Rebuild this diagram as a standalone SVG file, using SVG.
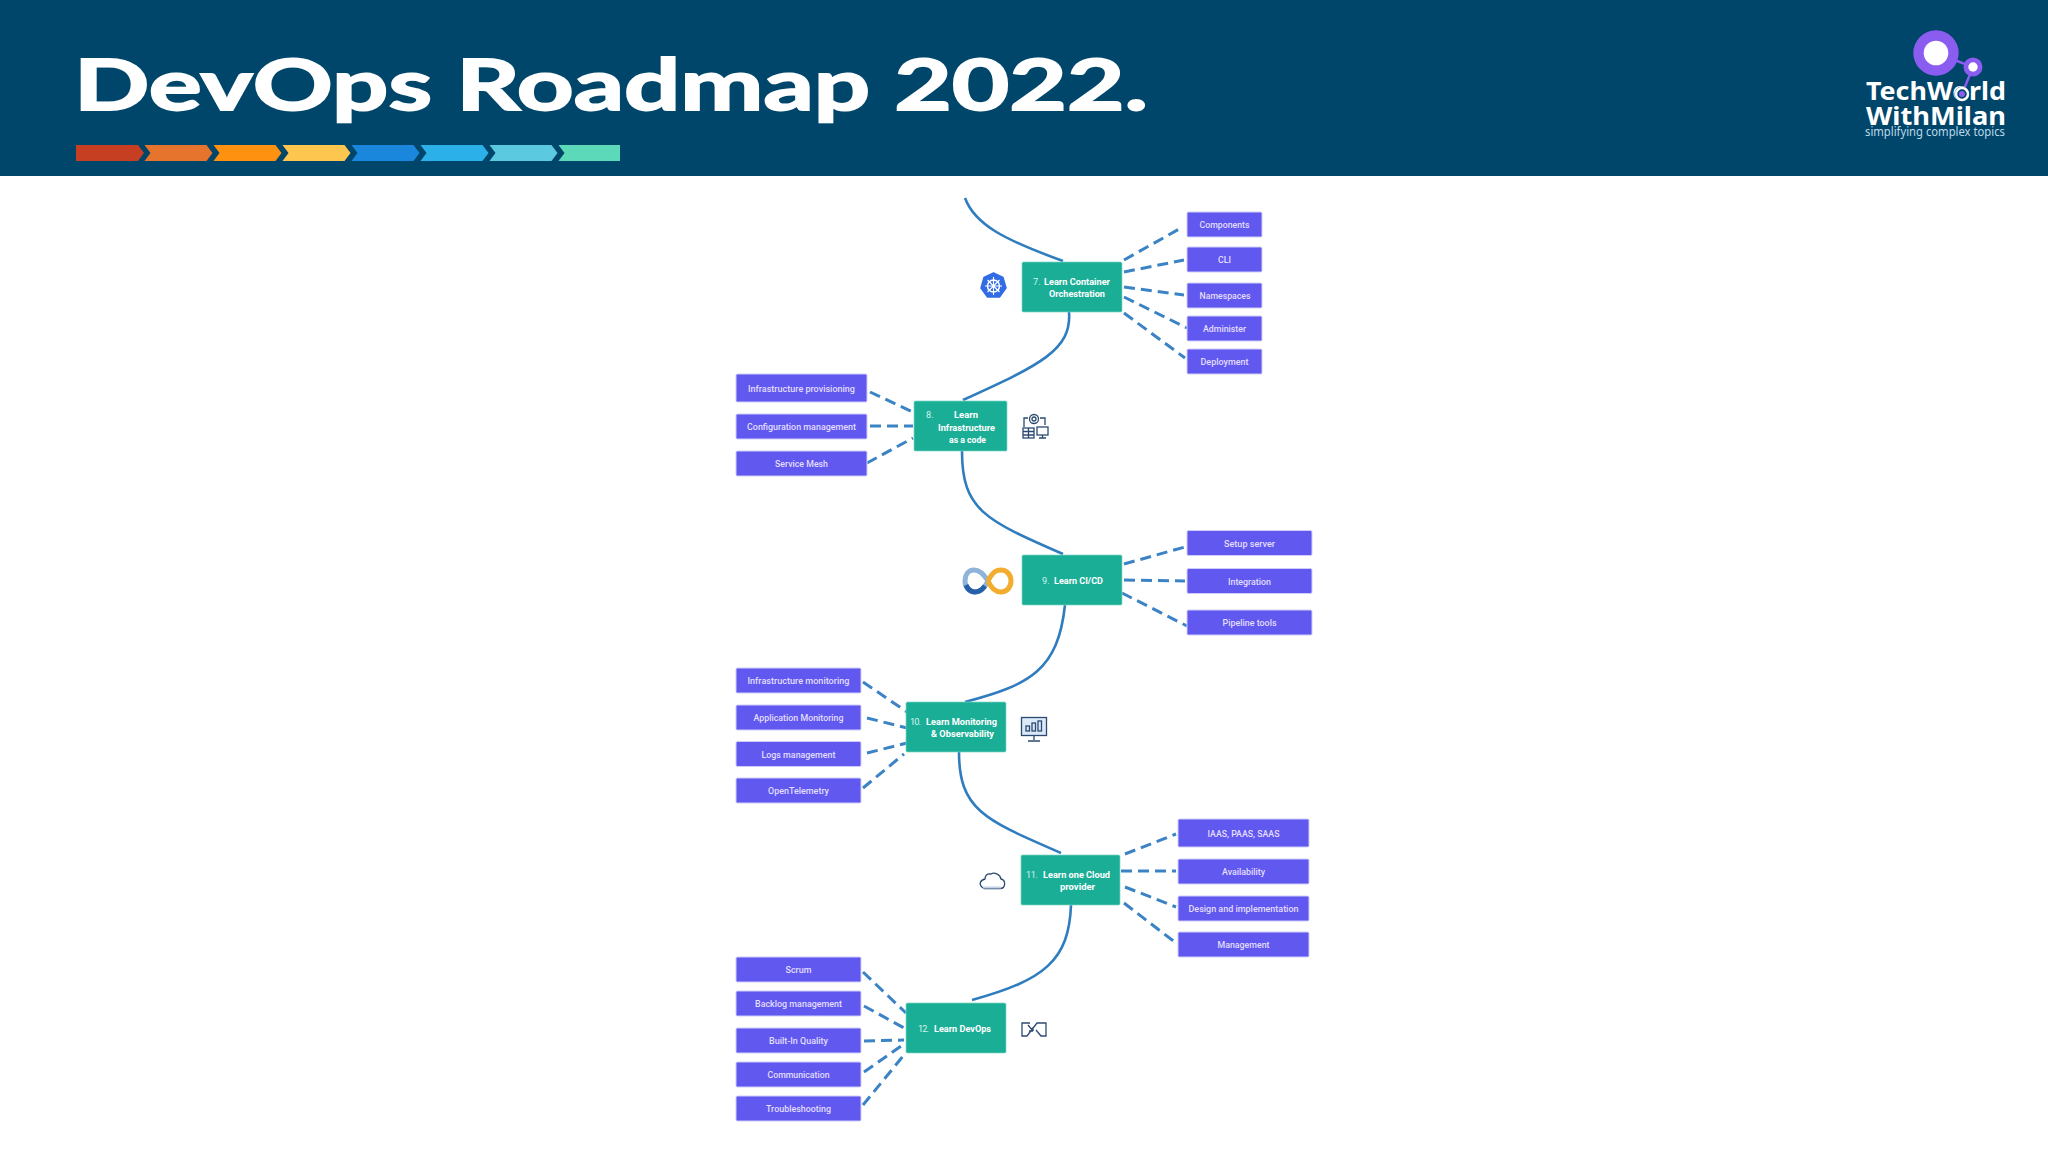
<svg xmlns="http://www.w3.org/2000/svg" width="2048" height="1152" viewBox="0 0 2048 1152">
<style>
.leaf rect{fill:#6158ef;stroke:#cfcdfb;stroke-width:1}
.leaf text{font:500 9.200px Roboto,"Liberation Sans",sans-serif;fill:#e2dfff;text-anchor:middle}
.step rect{fill:#1bae96;stroke:#7fd6c6;stroke-width:.7}
.step text{font:700 9.200px Roboto,"Liberation Sans",sans-serif;fill:#fff}
.step text.n{font-weight:400;fill:#d5f3ed}
.curve{fill:none;stroke:#2f7dbf;stroke-width:2.600}
.dash{fill:none;stroke:#3b83c4;stroke-width:3;stroke-dasharray:11 6}
.ico{fill:none;stroke:#2c4a70;stroke-width:1.300}
.logo{font-family:"Noto Sans","Open Sans",sans-serif;font-weight:700;fill:#fff}
</style>
<rect width="2048" height="1152" fill="#fff"/>
<g id="header">
<rect width="2048" height="176" fill="#00466b"/>
<text x="74" y="110" font-family="Lato,'Liberation Sans',sans-serif" font-weight="700" font-size="71" fill="#fff" stroke="#fff" stroke-width="1.800" textLength="1074" lengthAdjust="spacingAndGlyphs">DevOps Roadmap 2022.</text>
<path d="M76 145h62l6 8-6 8H76z" fill="#c63f22"/>
<path d="M144.500 145h62l6 8-6 8h-62l6-8z" fill="#e6742c"/>
<path d="M213.500 145h62l6 8-6 8h-62l6-8z" fill="#ff9110"/>
<path d="M282.500 145h62l6 8-6 8h-62l6-8z" fill="#fdc64f"/>
<path d="M351.500 145h62l6 8-6 8h-62l6-8z" fill="#1a87dc"/>
<path d="M420.500 145h62l6 8-6 8h-62l6-8z" fill="#2cb0ea"/>
<path d="M489.500 145h62l6 8-6 8h-62l6-8z" fill="#5bc9e0"/>
<path d="M558.500 145h61.500v16h-61.500l6-8z" fill="#5cd9b8"/>
</g>
<g id="logo">
<path d="M1936 53L1973 67L1962 94" fill="none" stroke="#8a5cf0" stroke-width="2.500"/>
<circle cx="1936" cy="53" r="22.700" fill="#8a5cf0"/>
<circle cx="1936" cy="53" r="12.300" fill="#fff"/>
<circle cx="1973" cy="67" r="9.500" fill="#8a5cf0"/>
<circle cx="1973" cy="67" r="4.700" fill="#fff"/>
<text class="logo" x="1866" y="100" font-size="25" textLength="140" lengthAdjust="spacingAndGlyphs">TechWorld</text>
<text class="logo" x="1866" y="125" font-size="25" textLength="140" lengthAdjust="spacingAndGlyphs">WithMilan</text>
<circle cx="1962" cy="94" r="7.500" fill="#00466b"/>
<circle cx="1962" cy="94" r="6" fill="none" stroke="#fff" stroke-width="2.500"/>
<circle cx="1962" cy="94" r="3" fill="#8a5cf0"/>
<text x="1865" y="136" font-family="'Noto Sans',sans-serif" font-size="12" fill="#bcd8e8" textLength="140" lengthAdjust="spacingAndGlyphs">simplifying complex topics</text>
</g>
<g id="connectors">
<path class="curve" d="M965 198C975 225 1005 240 1063 261"/>
<path class="curve" d="M1069 312C1072 350 1040 365 963 400"/>
<path class="curve" d="M962 451C962 510 985 520 1063 554"/>
<path class="curve" d="M1065 605C1058 670 1030 685 965 702"/>
<path class="curve" d="M959 752C959 810 985 820 1061 853"/>
<path class="curve" d="M1071 905C1069 960 1045 980 972 1000"/>
<path class="dash" d="M1124 260L1181 228"/>
<path class="dash" d="M1124 272L1184 260"/>
<path class="dash" d="M1124 287L1184 295"/>
<path class="dash" d="M1124 297L1187 328"/>
<path class="dash" d="M1124 313L1185 358"/>
<path class="dash" d="M870 392L915 413"/>
<path class="dash" d="M870 426L913 426"/>
<path class="dash" d="M867 463L913 438"/>
<path class="dash" d="M1124 564L1185 547"/>
<path class="dash" d="M1124 580L1185 581"/>
<path class="dash" d="M1122 593L1187 626"/>
<path class="dash" d="M863 682L907 712"/>
<path class="dash" d="M867 718L907 728"/>
<path class="dash" d="M867 753L907 743"/>
<path class="dash" d="M863 788L904 754"/>
<path class="dash" d="M1125 854L1176 834"/>
<path class="dash" d="M1121 871L1176 871"/>
<path class="dash" d="M1125 887L1176 907"/>
<path class="dash" d="M1124 903L1176 943"/>
<path class="dash" d="M863 972L906 1013"/>
<path class="dash" d="M864 1006L906 1029"/>
<path class="dash" d="M864 1041L904 1040"/>
<path class="dash" d="M864 1072L904 1044"/>
<path class="dash" d="M863 1105L904 1055"/>
</g>
<g id="step7" class="step"><rect x="1022" y="262" width="100" height="50" rx="1.500"/>
<text class="n" x="1033" y="284.500">7.</text><text x="1044" y="284.500" textLength="66" lengthAdjust="spacingAndGlyphs">Learn Container</text><text x="1049" y="297" textLength="56" lengthAdjust="spacingAndGlyphs">Orchestration</text></g>
<g id="step8" class="step"><rect x="914" y="401" width="93" height="50" rx="1.500"/>
<text class="n" x="926" y="417.500">8.</text><text x="954" y="417.500" textLength="24" lengthAdjust="spacingAndGlyphs">Learn</text><text x="938" y="430.500" textLength="57" lengthAdjust="spacingAndGlyphs">Infrastructure</text><text x="949" y="442.500" textLength="37" lengthAdjust="spacingAndGlyphs">as a code</text></g>
<g id="step9" class="step"><rect x="1022" y="555" width="100" height="50" rx="1.500"/>
<text class="n" x="1042" y="583.500">9.</text><text x="1054" y="583.500" textLength="49" lengthAdjust="spacingAndGlyphs">Learn CI/CD</text></g>
<g id="step10" class="step"><rect x="906" y="702" width="100" height="50" rx="1.500"/>
<text class="n" x="910" y="724.500" textLength="11">10.</text><text x="926" y="724.500" textLength="71" lengthAdjust="spacingAndGlyphs">Learn Monitoring</text><text x="931" y="737" textLength="63" lengthAdjust="spacingAndGlyphs">&amp; Observability</text></g>
<g id="step11" class="step"><rect x="1021" y="855" width="99" height="50" rx="1.500"/>
<text class="n" x="1026" y="877.500" textLength="12">11.</text><text x="1043" y="877.500" textLength="67" lengthAdjust="spacingAndGlyphs">Learn one Cloud</text><text x="1060" y="890" textLength="35" lengthAdjust="spacingAndGlyphs">provider</text></g>
<g id="step12" class="step"><rect x="906" y="1003" width="100" height="50" rx="1.500"/>
<text class="n" x="918" y="1031.500" textLength="11">12.</text><text x="934" y="1031.500" textLength="57" lengthAdjust="spacingAndGlyphs">Learn DevOps</text></g>
<g id="leaf-components" class="leaf"><rect x="1187" y="212" width="75" height="25" rx="1.500"/><text x="1224.500" y="228" textLength="50" lengthAdjust="spacingAndGlyphs">Components</text></g>
<g id="leaf-cli" class="leaf"><rect x="1187" y="247" width="75" height="25" rx="1.500"/><text x="1224.500" y="263" textLength="13" lengthAdjust="spacingAndGlyphs">CLI</text></g>
<g id="leaf-namespaces" class="leaf"><rect x="1187" y="283" width="75" height="25" rx="1.500"/><text x="1225" y="299" textLength="51" lengthAdjust="spacingAndGlyphs">Namespaces</text></g>
<g id="leaf-administer" class="leaf"><rect x="1187" y="316" width="75" height="25" rx="1.500"/><text x="1224.500" y="332" textLength="43" lengthAdjust="spacingAndGlyphs">Administer</text></g>
<g id="leaf-deployment" class="leaf"><rect x="1187" y="349" width="75" height="25" rx="1.500"/><text x="1224.500" y="365" textLength="48" lengthAdjust="spacingAndGlyphs">Deployment</text></g>
<g id="leaf-provisioning" class="leaf"><rect x="736" y="374" width="131" height="28" rx="1.500"/><text x="801.500" y="392" textLength="107" lengthAdjust="spacingAndGlyphs">Infrastructure provisioning</text></g>
<g id="leaf-config" class="leaf"><rect x="736" y="414" width="131" height="25" rx="1.500"/><text x="801.500" y="430" textLength="109" lengthAdjust="spacingAndGlyphs">Configuration management</text></g>
<g id="leaf-mesh" class="leaf"><rect x="736" y="451" width="131" height="25" rx="1.500"/><text x="801.500" y="467" textLength="53" lengthAdjust="spacingAndGlyphs">Service Mesh</text></g>
<g id="leaf-setup" class="leaf"><rect x="1187" y="530.500" width="125" height="25" rx="1.500"/><text x="1249.500" y="546.500" textLength="51" lengthAdjust="spacingAndGlyphs">Setup server</text></g>
<g id="leaf-integration" class="leaf"><rect x="1187" y="568.500" width="125" height="25" rx="1.500"/><text x="1249.500" y="584.500" textLength="43" lengthAdjust="spacingAndGlyphs">Integration</text></g>
<g id="leaf-pipeline" class="leaf"><rect x="1187" y="610" width="125" height="25" rx="1.500"/><text x="1249.500" y="626" textLength="54" lengthAdjust="spacingAndGlyphs">Pipeline tools</text></g>
<g id="leaf-inframon" class="leaf"><rect x="736" y="668" width="125" height="25" rx="1.500"/><text x="798.500" y="684" textLength="102" lengthAdjust="spacingAndGlyphs">Infrastructure monitoring</text></g>
<g id="leaf-appmon" class="leaf"><rect x="736" y="705" width="125" height="25" rx="1.500"/><text x="798.500" y="721" textLength="90" lengthAdjust="spacingAndGlyphs">Application Monitoring</text></g>
<g id="leaf-logs" class="leaf"><rect x="736" y="741.500" width="125" height="25" rx="1.500"/><text x="798.500" y="757.500" textLength="74" lengthAdjust="spacingAndGlyphs">Logs management</text></g>
<g id="leaf-otel" class="leaf"><rect x="736" y="778" width="125" height="25" rx="1.500"/><text x="798.500" y="794" textLength="61" lengthAdjust="spacingAndGlyphs">OpenTelemetry</text></g>
<g id="leaf-iaas" class="leaf"><rect x="1178" y="819" width="131" height="28" rx="1.500"/><text x="1243.500" y="836.500" textLength="72" lengthAdjust="spacingAndGlyphs">IAAS, PAAS, SAAS</text></g>
<g id="leaf-avail" class="leaf"><rect x="1178" y="859" width="131" height="25" rx="1.500"/><text x="1243.500" y="875" textLength="43" lengthAdjust="spacingAndGlyphs">Availability</text></g>
<g id="leaf-design" class="leaf"><rect x="1178" y="896" width="131" height="25" rx="1.500"/><text x="1243.500" y="912" textLength="110" lengthAdjust="spacingAndGlyphs">Design and implementation</text></g>
<g id="leaf-mgmt" class="leaf"><rect x="1178" y="932" width="131" height="25" rx="1.500"/><text x="1243.500" y="948" textLength="52" lengthAdjust="spacingAndGlyphs">Management</text></g>
<g id="leaf-scrum" class="leaf"><rect x="736" y="957" width="125" height="25" rx="1.500"/><text x="798.500" y="973" textLength="26" lengthAdjust="spacingAndGlyphs">Scrum</text></g>
<g id="leaf-backlog" class="leaf"><rect x="736" y="991" width="125" height="25" rx="1.500"/><text x="798.500" y="1007" textLength="87" lengthAdjust="spacingAndGlyphs">Backlog management</text></g>
<g id="leaf-quality" class="leaf"><rect x="736" y="1028" width="125" height="25" rx="1.500"/><text x="798.500" y="1044" textLength="59" lengthAdjust="spacingAndGlyphs">Built-In Quality</text></g>
<g id="leaf-comm" class="leaf"><rect x="736" y="1062" width="125" height="25" rx="1.500"/><text x="798.500" y="1078" textLength="62" lengthAdjust="spacingAndGlyphs">Communication</text></g>
<g id="leaf-trouble" class="leaf"><rect x="736" y="1096" width="125" height="25" rx="1.500"/><text x="798.500" y="1112" textLength="65" lengthAdjust="spacingAndGlyphs">Troubleshooting</text></g>
<g id="icon-k8s">
<path d="M993.500 273L1003 277.500L1006 288L999.500 297H987.500L981 288L984 277.500Z" fill="#326ce5" stroke="#326ce5" stroke-width="1.500" stroke-linejoin="round"/>
<circle cx="993.500" cy="286" r="6" fill="none" stroke="#fff" stroke-width="1.500"/>
<path d="M993.500 277V295M985 286H1002M987.500 280L999.500 292M999.500 280L987.500 292" stroke="#fff" stroke-width="1.100"/>
</g>
<g id="icon-iac">
<circle cx="1034" cy="419" r="4.500" class="ico"/><circle cx="1034" cy="419" r="2" class="ico"/>
<path d="M1024 427V418H1028M1040 418H1045V425" class="ico"/>
<rect x="1023" y="428" width="11" height="10" class="ico" fill="#dce6f0"/><path d="M1023 431.500H1034M1023 435H1034M1028.500 428V438" class="ico"/>
<rect x="1037" y="427" width="11" height="8" class="ico"/><path d="M1042.500 435V438M1039 438H1046" class="ico"/>
</g>
<g id="icon-cicd">
<path d="M988 581C982 571 977 570 974 570C968 570 965 575 965 581C965 587 969 592 975 592C981 592 985 587 988 581" fill="none" stroke="#8fb3d9" stroke-width="5"/>
<path d="M966 585C968 590 971 592 975 592C979 592 982 590 985 586" fill="none" stroke="#2560a8" stroke-width="5"/>
<path d="M988 581C993 571 997 570 1001 570C1007 570 1011 575 1011 581C1011 587 1007 592 1001 592C995 592 991 588 988 581" fill="none" stroke="#f2ac2e" stroke-width="5"/>
</g>
<g id="icon-monitor">
<rect x="1021.500" y="717.500" width="25" height="18" fill="#dbe8f8" stroke="#2c4a70" stroke-width="1.300"/>
<path d="M1034 735.500V740M1028 741H1040" class="ico"/>
<rect x="1026" y="726" width="3.500" height="5" class="ico"/><rect x="1032" y="723" width="3.500" height="8" class="ico"/><rect x="1038" y="721" width="3.500" height="10" class="ico"/>
</g>
<g id="icon-cloud">
<path d="M984 888.500H1000C1006 888.500 1006 880 1001 879C1000 874 994 872 991 874C987 873 985 876 985 879C981 880 977 884 984 888.500Z" fill="#fff" stroke="#2c4a70" stroke-width="1.300"/>
<path d="M983 887.500H1001" stroke="#c4cfe8" stroke-width="2"/>
</g>
<g id="icon-devops">
<path d="M1030 1023H1022V1036H1027L1037 1023H1046V1036H1041L1036 1030M1028 1025L1033 1031M1033 1031V1027M1033 1031H1029" class="ico"/>
</g>
</svg>
